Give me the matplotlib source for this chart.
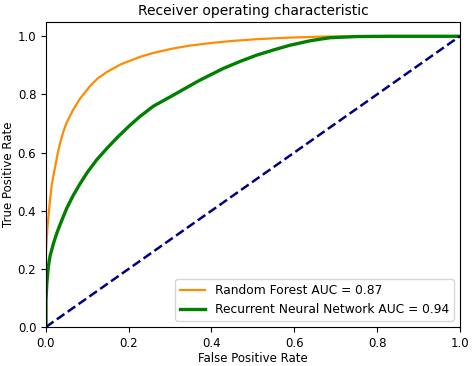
"""
ROC curves: Random Forest vs Recurrent Neural Network
"""

import matplotlib
matplotlib.use('Agg')
import matplotlib.pyplot as plt

# ROC points
rf_fpr = [0.0, 0.0, 0.003, 0.006, 0.010, 0.014, 0.022, 0.028, 0.034, 0.042,
          0.050, 0.066, 0.082, 0.106, 0.125, 0.147, 0.180, 0.227, 0.260,
          0.307, 0.348, 0.400, 0.450, 0.509, 0.580, 0.670, 0.750, 1.0]
rf_tpr = [0.0, 0.26, 0.33, 0.38, 0.44, 0.49, 0.55, 0.595, 0.632, 0.672,
          0.703, 0.748, 0.785, 0.828, 0.855, 0.877, 0.903, 0.929, 0.943,
          0.958, 0.968, 0.977, 0.984, 0.990, 0.995, 0.999, 1.0, 1.0]

rnn_fpr = [0.0, 0.0, 0.002, 0.0056, 0.010, 0.018, 0.026, 0.034, 0.050, 0.066,
           0.082, 0.100, 0.122, 0.147, 0.171, 0.200, 0.227, 0.260, 0.307,
           0.348, 0.372, 0.428, 0.470, 0.509, 0.550, 0.589, 0.640, 0.686,
           0.750, 0.830, 1.0]
rnn_tpr = [0.0, 0.09, 0.15, 0.207, 0.245, 0.287, 0.322, 0.352, 0.408, 0.453,
           0.492, 0.532, 0.574, 0.614, 0.650, 0.690, 0.724, 0.760, 0.797,
           0.830, 0.849, 0.889, 0.914, 0.935, 0.953, 0.969, 0.985, 0.995,
           0.999, 1.0, 1.0]

chance = [0.0, 1.0]

rf_label = 'Random Forest AUC = 0.87'
rnn_label = 'Recurrent Neural Network AUC = 0.94'

plt.rcParams['font.family'] = ['DejaVu Sans']

fig = plt.figure(figsize=(4.74, 3.66), dpi=100)
ax = fig.add_axes([0.097, 0.1066, 0.873, 0.834])

ax.plot(rf_fpr, rf_tpr, color='darkorange', lw=1.6, label=rf_label)
ax.plot(rnn_fpr, rnn_tpr, color='green', lw=2.4, label=rnn_label)
ax.plot(chance, chance, color='#000080', lw=1.8, linestyle='--')

ax.set_xlim(0.0, 1.0)
ax.set_ylim(0.0, 1.05)
ax.set_xlabel('False Positive Rate', fontsize=8.5, labelpad=2)
ax.set_ylabel('True Positive Rate', fontsize=8.5, labelpad=2)
ax.set_title('Receiver operating characteristic', fontsize=10, pad=5)
ax.tick_params(labelsize=8.5)
ax.legend(loc='lower right', fontsize=8.8)

plt.savefig('out.png', dpi=100)
plt.close()
